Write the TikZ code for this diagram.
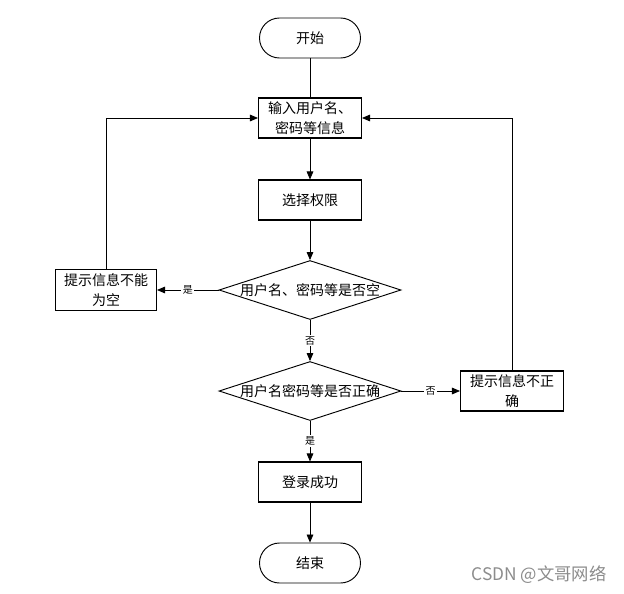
\documentclass[tikz,border=0pt]{standalone}
\usepackage{fontspec}
\setmainfont{Noto Sans CJK SC}
\usetikzlibrary{shapes.geometric,arrows.meta}
\begin{document}
\begin{tikzpicture}[x=0.75pt,y=-0.75pt,
  every node/.style={font=\fontsize{10.5pt}{15pt}\selectfont, inner sep=0pt},
  box/.style={draw, line width=0.8pt, minimum width=77.25pt, minimum height=30pt, align=center},
  term/.style={draw, line width=0.7pt, rounded corners=15pt, minimum width=75.75pt, minimum height=30pt},
  dia/.style={draw, line width=0.7pt, diamond, minimum width=136.5pt, minimum height=44.25pt},
  lbl/.style={font=\fontsize{7.5pt}{9pt}\selectfont, fill=white, inner sep=1pt},
  conn/.style={line width=0.6pt},
  arr/.style={conn, -{Triangle[length=6pt,width=5pt]}}]
\useasboundingbox (0,0) rectangle (624,593);
\node[term] (start) at (310,38) {开始};
\node[box] (input) at (310,118) {输入用户名、\\密码等信息};
\node[box] (sel) at (310,200) {选择权限};
\node[dia] (d1) at (310,290) {};
\node at (310,290) {用户名、密码等是否空};
\node[box, minimum width=75.75pt, minimum height=30.75pt] (lbox) at (106,290) {提示信息不能\\为空};
\node[dia] (d2) at (310,391) {};
\node at (310,391) {用户名密码等是否正确};
\node[box] (rbox) at (512,391) {提示信息不正\\确};
\node[box] (ok) at (310,482) {登录成功};
\node[term] (end) at (310,563) {结束};
\node[font=\fontsize{13pt}{15pt}\selectfont, text=black!45] (wm) at (539,575) {CSDN @文哥网络};

\draw[conn] (start) -- (input);
\draw[arr] (input) -- (sel);
\draw[arr] (sel) -- (d1);
\draw[arr] (d1.west) -- node[lbl] {是} (lbox.east);
\draw[arr] (lbox.north) |- (input.west);
\draw[arr] (d1.south) -- node[lbl] {否} (d2.north);
\draw[arr] (d2.east) -- node[lbl] {否} (rbox.west);
\draw[arr] (rbox.north) |- (input.east);
\draw[arr] (d2.south) -- node[lbl] {是} (ok.north);
\draw[arr] (ok) -- (end);
\end{tikzpicture}
\end{document}
